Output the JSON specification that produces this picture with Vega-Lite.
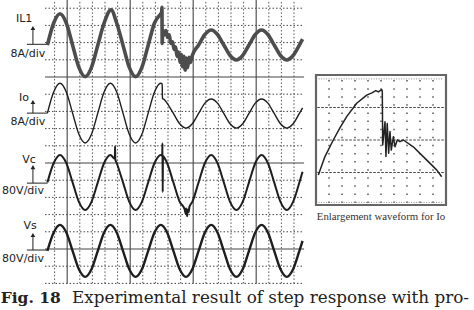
{
"$schema":"https://vega.github.io/schema/vega-lite/v6.json",
"width":474,"height":310,"padding":0,"autosize":{"type":"none"},
"background":"white",
"config":{"view":{"stroke":null}},
"datasets":{
"traces":[
{"ch":"IL1","t":2.14,"v":13.85},{"ch":"IL1","t":4.64,"v":15.14},{"ch":"IL1","t":7.14,"v":15.68},{"ch":"IL1","t":9.64,"v":15.14},{"ch":"IL1","t":12.14,"v":13.85},{"ch":"IL1","t":14.64,"v":12.56},{"ch":"IL1","t":17.14,"v":12.02},{"ch":"IL1","t":19.64,"v":12.56},{"ch":"IL1","t":22.14,"v":13.85},{"ch":"IL1","t":24.64,"v":15.14},{"ch":"IL1","t":27.4,"v":15.9},{"ch":"IL1","t":29.64,"v":15.14},{"ch":"IL1","t":32.14,"v":13.85},{"ch":"IL1","t":34.64,"v":12.56},{"ch":"IL1","t":37.14,"v":12.02},{"ch":"IL1","t":39.64,"v":12.56},{"ch":"IL1","t":42.14,"v":13.85},{"ch":"IL1","t":44.64,"v":15.14},{"ch":"IL1","t":47.14,"v":15.68},{"ch":"IL1","t":47.5,"v":15.75},{"ch":"IL1","t":47.6,"v":16.05},{"ch":"IL1","t":47.7,"v":13.95},{"ch":"IL1","t":47.9,"v":14.75},{"ch":"IL1","t":48.6,"v":14.45},{"ch":"IL1","t":49.2,"v":14.7},{"ch":"IL1","t":49.8,"v":14.3},{"ch":"IL1","t":50.5,"v":14.45},{"ch":"IL1","t":51.1,"v":13.95},{"ch":"IL1","t":51.8,"v":14.05},{"ch":"IL1","t":52.4,"v":13.6},{"ch":"IL1","t":53.0,"v":13.75},{"ch":"IL1","t":53.6,"v":13.2},{"ch":"IL1","t":54.2,"v":13.45},{"ch":"IL1","t":54.8,"v":12.85},{"ch":"IL1","t":55.3,"v":13.3},{"ch":"IL1","t":55.8,"v":12.6},{"ch":"IL1","t":56.3,"v":13.2},{"ch":"IL1","t":56.8,"v":12.4},{"ch":"IL1","t":57.3,"v":13.1},{"ch":"IL1","t":57.8,"v":12.55},{"ch":"IL1","t":58.3,"v":13.15},{"ch":"IL1","t":58.9,"v":12.85},{"ch":"IL1","t":59.64,"v":13.25},{"ch":"IL1","t":62.14,"v":13.86},{"ch":"IL1","t":64.64,"v":14.47},{"ch":"IL1","t":67.14,"v":14.73},{"ch":"IL1","t":69.64,"v":14.47},{"ch":"IL1","t":72.14,"v":13.86},{"ch":"IL1","t":74.64,"v":13.25},{"ch":"IL1","t":77.14,"v":12.99},{"ch":"IL1","t":79.64,"v":13.25},{"ch":"IL1","t":82.14,"v":13.86},{"ch":"IL1","t":84.64,"v":14.47},{"ch":"IL1","t":87.14,"v":14.73},{"ch":"IL1","t":89.64,"v":14.47},{"ch":"IL1","t":92.14,"v":13.86},{"ch":"IL1","t":94.64,"v":13.25},{"ch":"IL1","t":97.14,"v":12.99},{"ch":"IL1","t":99.64,"v":13.25},{"ch":"IL1","t":102.14,"v":13.86},{"ch":"IL1","t":103.4,"v":14.2},
{"ch":"Io","t":2.14,"v":9.9},{"ch":"Io","t":4.64,"v":11.13},{"ch":"Io","t":7.14,"v":11.64},{"ch":"Io","t":9.64,"v":11.13},{"ch":"Io","t":12.14,"v":9.9},{"ch":"Io","t":14.64,"v":8.67},{"ch":"Io","t":17.14,"v":8.16},{"ch":"Io","t":19.64,"v":8.67},{"ch":"Io","t":22.14,"v":9.9},{"ch":"Io","t":24.64,"v":11.13},{"ch":"Io","t":27.14,"v":11.64},{"ch":"Io","t":29.64,"v":11.13},{"ch":"Io","t":32.14,"v":9.9},{"ch":"Io","t":34.64,"v":8.67},{"ch":"Io","t":37.14,"v":8.16},{"ch":"Io","t":39.64,"v":8.67},{"ch":"Io","t":42.14,"v":9.9},{"ch":"Io","t":44.64,"v":11.13},{"ch":"Io","t":47.14,"v":11.64},{"ch":"Io","t":47.7,"v":11.6},{"ch":"Io","t":47.8,"v":10.75},{"ch":"Io","t":48.6,"v":10.68},{"ch":"Io","t":49.64,"v":10.48},{"ch":"Io","t":52.14,"v":9.88},{"ch":"Io","t":54.64,"v":9.28},{"ch":"Io","t":57.14,"v":9.03},{"ch":"Io","t":59.64,"v":9.28},{"ch":"Io","t":62.14,"v":9.88},{"ch":"Io","t":64.64,"v":10.48},{"ch":"Io","t":67.14,"v":10.72},{"ch":"Io","t":69.64,"v":10.48},{"ch":"Io","t":72.14,"v":9.88},{"ch":"Io","t":74.64,"v":9.28},{"ch":"Io","t":77.14,"v":9.03},{"ch":"Io","t":79.64,"v":9.28},{"ch":"Io","t":82.14,"v":9.88},{"ch":"Io","t":84.64,"v":10.48},{"ch":"Io","t":87.14,"v":10.72},{"ch":"Io","t":89.64,"v":10.48},{"ch":"Io","t":92.14,"v":9.88},{"ch":"Io","t":94.64,"v":9.28},{"ch":"Io","t":97.14,"v":9.03},{"ch":"Io","t":99.64,"v":9.28},{"ch":"Io","t":102.14,"v":9.88},{"ch":"Io","t":103.4,"v":10.2},
{"ch":"Vc","t":2.14,"v":5.87},{"ch":"Vc","t":4.64,"v":7.0},{"ch":"Vc","t":7.14,"v":7.47},{"ch":"Vc","t":9.64,"v":7.0},{"ch":"Vc","t":12.14,"v":5.87},{"ch":"Vc","t":14.64,"v":4.74},{"ch":"Vc","t":17.14,"v":4.27},{"ch":"Vc","t":19.64,"v":4.74},{"ch":"Vc","t":22.14,"v":5.87},{"ch":"Vc","t":24.64,"v":7.0},{"ch":"Vc","t":27.14,"v":7.47},{"ch":"Vc","t":28.9,"v":7.25},{"ch":"Vc","t":29.0,"v":7.98},{"ch":"Vc","t":29.1,"v":7.2},{"ch":"Vc","t":29.64,"v":7.0},{"ch":"Vc","t":32.14,"v":5.87},{"ch":"Vc","t":34.64,"v":4.74},{"ch":"Vc","t":37.14,"v":4.27},{"ch":"Vc","t":39.64,"v":4.74},{"ch":"Vc","t":42.14,"v":5.87},{"ch":"Vc","t":44.64,"v":7.0},{"ch":"Vc","t":47.14,"v":7.47},{"ch":"Vc","t":47.7,"v":7.42},{"ch":"Vc","t":47.8,"v":8.15},{"ch":"Vc","t":47.9,"v":5.31},{"ch":"Vc","t":48.0,"v":7.4},{"ch":"Vc","t":48.6,"v":7.3},{"ch":"Vc","t":49.64,"v":7.0},{"ch":"Vc","t":52.14,"v":5.87},{"ch":"Vc","t":54.64,"v":4.74},{"ch":"Vc","t":56.6,"v":4.32},{"ch":"Vc","t":57.0,"v":4.05},{"ch":"Vc","t":57.2,"v":4.35},{"ch":"Vc","t":57.6,"v":3.9},{"ch":"Vc","t":57.8,"v":4.3},{"ch":"Vc","t":58.2,"v":4.15},{"ch":"Vc","t":58.5,"v":4.45},{"ch":"Vc","t":59.64,"v":4.74},{"ch":"Vc","t":62.14,"v":5.87},{"ch":"Vc","t":64.64,"v":7.0},{"ch":"Vc","t":67.14,"v":7.47},{"ch":"Vc","t":69.64,"v":7.0},{"ch":"Vc","t":72.14,"v":5.87},{"ch":"Vc","t":74.64,"v":4.74},{"ch":"Vc","t":77.14,"v":4.27},{"ch":"Vc","t":79.64,"v":4.74},{"ch":"Vc","t":82.14,"v":5.87},{"ch":"Vc","t":84.64,"v":7.0},{"ch":"Vc","t":87.14,"v":7.47},{"ch":"Vc","t":89.64,"v":7.0},{"ch":"Vc","t":92.14,"v":5.87},{"ch":"Vc","t":94.64,"v":4.74},{"ch":"Vc","t":97.14,"v":4.27},{"ch":"Vc","t":99.64,"v":4.74},{"ch":"Vc","t":102.14,"v":5.87},{"ch":"Vc","t":103.4,"v":6.49},
{"ch":"Vs","t":2.14,"v":1.89},{"ch":"Vs","t":4.64,"v":2.96},{"ch":"Vs","t":7.14,"v":3.4},{"ch":"Vs","t":9.64,"v":2.96},{"ch":"Vs","t":12.14,"v":1.89},{"ch":"Vs","t":14.64,"v":0.82},{"ch":"Vs","t":17.14,"v":0.38},{"ch":"Vs","t":19.64,"v":0.82},{"ch":"Vs","t":22.14,"v":1.89},{"ch":"Vs","t":24.64,"v":2.96},{"ch":"Vs","t":27.14,"v":3.4},{"ch":"Vs","t":29.64,"v":2.96},{"ch":"Vs","t":32.14,"v":1.89},{"ch":"Vs","t":34.64,"v":0.82},{"ch":"Vs","t":37.14,"v":0.38},{"ch":"Vs","t":39.64,"v":0.82},{"ch":"Vs","t":42.14,"v":1.89},{"ch":"Vs","t":44.64,"v":2.96},{"ch":"Vs","t":47.14,"v":3.4},{"ch":"Vs","t":49.64,"v":2.96},{"ch":"Vs","t":52.14,"v":1.89},{"ch":"Vs","t":54.64,"v":0.82},{"ch":"Vs","t":57.14,"v":0.38},{"ch":"Vs","t":59.64,"v":0.82},{"ch":"Vs","t":62.14,"v":1.89},{"ch":"Vs","t":64.64,"v":2.96},{"ch":"Vs","t":67.14,"v":3.4},{"ch":"Vs","t":69.64,"v":2.96},{"ch":"Vs","t":72.14,"v":1.89},{"ch":"Vs","t":74.64,"v":0.82},{"ch":"Vs","t":77.14,"v":0.38},{"ch":"Vs","t":79.64,"v":0.82},{"ch":"Vs","t":82.14,"v":1.89},{"ch":"Vs","t":84.64,"v":2.96},{"ch":"Vs","t":87.14,"v":3.4},{"ch":"Vs","t":89.64,"v":2.96},{"ch":"Vs","t":92.14,"v":1.89},{"ch":"Vs","t":94.64,"v":0.82},{"ch":"Vs","t":97.14,"v":0.38},{"ch":"Vs","t":99.64,"v":0.82},{"ch":"Vs","t":102.14,"v":1.89},{"ch":"Vs","t":103.4,"v":2.47}
],
"vgrid":[{"t":5},{"t":15},{"t":20},{"t":25},{"t":30},{"t":40},{"t":45},{"t":50},{"t":55},{"t":65},{"t":70},{"t":75},{"t":80},{"t":90},{"t":95},{"t":100}],
"vsolid":[{"t":10},{"t":35},{"t":60},{"t":85}],
"hgrid":[{"d":0},{"d":1},{"d":3},{"d":4},{"d":5},{"d":6},{"d":8},{"d":9},{"d":10},{"d":11},{"d":13},{"d":14},{"d":15},{"d":16}],
"hsolid":[{"d":2},{"d":7},{"d":12}],
"labels":[{"txt":"IL1","t":-7.1,"v":15.37},{"txt":"8A/div","t":-5.56,"v":13.34},{"txt":"Io","t":-7.1,"v":10.78},{"txt":"8A/div","t":-5.56,"v":9.41},{"txt":"Vc","t":-5.16,"v":7.17},{"txt":"80V/div","t":-7.54,"v":5.37},{"txt":"Vs","t":-4.76,"v":3.31},{"txt":"80V/div","t":-7.54,"v":1.42}],
"arrows":[{"ch":"IL1","z":13.9,"tip":14.85},{"ch":"Io","z":9.9,"tip":10.55},{"ch":"Vc","z":5.83,"tip":6.76},{"ch":"Vs","z":1.94,"tip":2.81}],
"inset":[{"x":0.18,"y":0.92},{"x":0.69,"y":1.49},{"x":1.33,"y":2.0},{"x":1.85,"y":2.38},{"x":2.36,"y":2.72},{"x":3.13,"y":3.13},{"x":3.9,"y":3.38},{"x":4.3,"y":3.45},{"x":4.6,"y":3.52},{"x":4.8,"y":3.48},{"x":5.05,"y":3.55},{"x":5.1,"y":3.5},{"x":5.13,"y":1.85},{"x":5.31,"y":2.56},{"x":5.38,"y":1.49},{"x":5.48,"y":2.51},{"x":5.59,"y":1.59},{"x":5.69,"y":2.26},{"x":5.79,"y":1.69},{"x":5.95,"y":2.1},{"x":6.08,"y":1.79},{"x":6.25,"y":2.0},{"x":6.46,"y":1.95},{"x":6.72,"y":2.0},{"x":7.48,"y":1.79},{"x":8.52,"y":1.38},{"x":9.28,"y":1.08},{"x":9.67,"y":0.87}],
"icols":[{"g":1},{"g":2},{"g":3},{"g":4},{"g":5},{"g":6},{"g":7},{"g":8},{"g":9}],
"irows":[{"g":1},{"g":2},{"g":3}]
},
"layer":[
{"layer":[
{"data":{"name":"vgrid"},"mark":{"type":"rule","strokeDash":[1.5,2],"color":"#555","strokeWidth":1},
 "encoding":{"x":{"field":"t","type":"quantitative","scale":{"domain":[-16.667,171.43],"nice":false,"zero":false},"axis":null},
 "y":{"datum":0,"type":"quantitative","scale":{"domain":[-1.547,16.477],"nice":false,"zero":false},"axis":null},"y2":{"datum":16.48}}},
{"data":{"name":"vsolid"},"mark":{"type":"rule","color":"#555","strokeWidth":1.2},
 "encoding":{"x":{"field":"t","type":"quantitative"},"y":{"datum":0,"type":"quantitative"},"y2":{"datum":16.48}}},
{"data":{"name":"hgrid"},"mark":{"type":"rule","strokeDash":[1.5,2],"color":"#444","strokeWidth":1},
 "encoding":{"y":{"field":"d","type":"quantitative"},"x":{"datum":1.2,"type":"quantitative"},"x2":{"datum":104}}},
{"data":{"name":"hsolid"},"mark":{"type":"rule","color":"#444","strokeWidth":1.2},
 "encoding":{"y":{"field":"d","type":"quantitative"},"x":{"datum":1.2,"type":"quantitative"},"x2":{"datum":104}}},
{"data":{"name":"arrows"},"mark":{"type":"rule","color":"#222","strokeWidth":1},
 "encoding":{"y":{"field":"z","type":"quantitative"},"x":{"datum":-6,"type":"quantitative"},"x2":{"datum":2.2}}},
{"data":{"name":"arrows"},"mark":{"type":"rule","color":"#222","strokeWidth":1},
 "encoding":{"y":{"field":"z","type":"quantitative"},"y2":{"field":"tip"},"x":{"datum":-3.6,"type":"quantitative"}}},
{"data":{"name":"arrows"},"mark":{"type":"point","shape":"triangle-up","filled":true,"color":"#222","size":22,"opacity":1},
 "encoding":{"y":{"field":"tip","type":"quantitative"},"x":{"datum":-3.6,"type":"quantitative"}}},
{"data":{"name":"traces"},"transform":[{"filter":"datum.ch === 'Vs'"}],"mark":{"type":"line","interpolate":"monotone","strokeJoin":"round","color":"#1e1e1e","strokeWidth":2.4},
 "encoding":{"x":{"field":"t","type":"quantitative"},"y":{"field":"v","type":"quantitative"}}},
{"data":{"name":"traces"},"transform":[{"filter":"datum.ch === 'Vc'"}],"mark":{"type":"line","interpolate":"monotone","strokeJoin":"round","color":"#1e1e1e","strokeWidth":2.0},
 "encoding":{"x":{"field":"t","type":"quantitative"},"y":{"field":"v","type":"quantitative"}}},
{"data":{"name":"traces"},"transform":[{"filter":"datum.ch === 'Io'"}],"mark":{"type":"line","interpolate":"monotone","strokeJoin":"round","color":"#1e1e1e","strokeWidth":1.4},
 "encoding":{"x":{"field":"t","type":"quantitative"},"y":{"field":"v","type":"quantitative"}}},
{"data":{"name":"traces"},"transform":[{"filter":"datum.ch === 'IL1'"}],"mark":{"type":"line","interpolate":"monotone","strokeJoin":"round","color":"#4d4d4d","strokeWidth":3.6},
 "encoding":{"x":{"field":"t","type":"quantitative"},"y":{"field":"v","type":"quantitative"}}},
{"data":{"name":"labels"},"mark":{"type":"text","font":"DejaVu Sans","fontSize":11,"color":"#222","align":"center","baseline":"middle"},
 "encoding":{"x":{"field":"t","type":"quantitative"},"y":{"field":"v","type":"quantitative"},"text":{"field":"txt"}}},
{"data":{"values":[{}]},"mark":{"type":"text","font":"DejaVu Serif","fontWeight":"bold","fontSize":15.5,"color":"#222","align":"left","baseline":"alphabetic"},
 "encoding":{"x":{"datum":-16.4,"type":"quantitative"},"y":{"datum":-1.14,"type":"quantitative"},"text":{"value":"Fig. 18"}}},
{"data":{"values":[{}]},"mark":{"type":"text","font":"DejaVu Serif","fontSize":16.8,"color":"#222","align":"left","baseline":"alphabetic"},
 "encoding":{"x":{"datum":11.9,"type":"quantitative"},"y":{"datum":-1.14,"type":"quantitative"},"text":{"value":"Experimental result of step response with pro-"}}}
]},
{"layer":[
{"data":{"name":"icols"},"mark":{"type":"rule","strokeDash":[1.5,6.6],"color":"#555","strokeWidth":1.5},
 "encoding":{"x":{"field":"g","type":"quantitative","scale":{"domain":[-24.308,12.154],"nice":false,"zero":false},"axis":null},
 "y":{"datum":0.06,"type":"quantitative","scale":{"domain":[-3.231,6.308],"nice":false,"zero":false},"axis":null},"y2":{"datum":3.95}}},
{"data":{"name":"irows"},"mark":{"type":"rule","strokeDash":[2.5,1.5],"color":"#444","strokeWidth":1},
 "encoding":{"y":{"field":"g","type":"quantitative"},"x":{"datum":0.1,"type":"quantitative"},"x2":{"datum":9.9}}},
{"data":{"values":[{}]},"mark":{"type":"rule","strokeDash":[1,1.5],"color":"#888","strokeWidth":1},
 "encoding":{"y":{"datum":3.88,"type":"quantitative"},"x":{"datum":0.2,"type":"quantitative"},"x2":{"datum":9.8}}},
{"data":{"values":[{}]},"mark":{"type":"rule","strokeDash":[1,1.5],"color":"#888","strokeWidth":1},
 "encoding":{"y":{"datum":0.08,"type":"quantitative"},"x":{"datum":0.2,"type":"quantitative"},"x2":{"datum":9.8}}},
{"data":{"values":[{}]},"mark":{"type":"rect","fill":null,"fillOpacity":0,"stroke":"#666","strokeWidth":2.2},
 "encoding":{"x":{"datum":0,"type":"quantitative"},"x2":{"datum":10},"y":{"datum":0,"type":"quantitative"},"y2":{"datum":4}}},
{"data":{"name":"inset"},"mark":{"type":"line","color":"#222","strokeWidth":1.5,"strokeJoin":"round"},
 "encoding":{"x":{"field":"x","type":"quantitative"},"y":{"field":"y","type":"quantitative"}}},
{"data":{"values":[{}]},"mark":{"type":"text","font":"Liberation Serif","fontSize":10.8,"color":"#333","align":"center","baseline":"middle"},
 "encoding":{"x":{"datum":5.0,"type":"quantitative"},"y":{"datum":-0.37,"type":"quantitative"},"text":{"value":"Enlargement waveform for Io"}}}
]}
],
"resolve":{"scale":{"x":"independent","y":"independent"}}
}
